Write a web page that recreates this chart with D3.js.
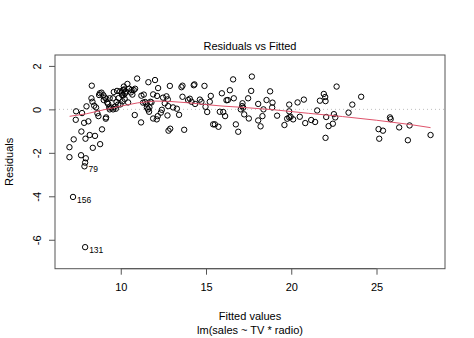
<!DOCTYPE html>
<html><head><meta charset="utf-8">
<script src="https://cdn.jsdelivr.net/npm/d3@7"></script>
<style>body{margin:0;background:#fff}svg{display:block}text{font-family:"Liberation Sans",Arial,sans-serif}</style>
</head><body><svg id="c" width="474" height="338"></svg>
<script>
// ---- data ----
const idNames = ["79", "156", "131"];
const idFitted = [7.87, 7.20, 7.91];
const idResid = [-2.62, -4.03, -6.34];

const fitted = [
7.87,7.20,7.91,7.67,7.95,7.91,
6.99,6.99,7.24,7.36,7.38,7.73,7.69,7.93,8.18,8.49,7.85,7.99,8.30,8.28,8.34,8.44,8.55,8.63,8.69,8.10,8.36,8.79,8.90,9.12,9.14,
8.77,8.87,8.73,8.98,9.00,9.08,9.16,9.20,9.26,9.32,9.35,9.45,9.55,9.65,9.71,9.35,9.55,
9.59,9.78,9.96,10.06,10.14,10.18,10.20,10.29,10.39,10.49,10.63,10.76,10.84,10.43,10.23,10.10,9.98,9.84,9.75,9.88,10.08,10.16,10.25,10.59,10.68,
10.82,10.96,11.19,11.21,11.35,11.31,11.43,11.51,11.53,11.62,11.60,11.66,11.68,11.74,11.80,11.90,11.90,12.01,12.13,12.11,12.17,12.19,12.35,12.48,12.41,12.58,12.68,12.76,12.78,12.74,12.80,12.90,12.88,
13.07,13.29,13.42,13.56,13.62,13.62,13.72,13.95,14.05,14.15,14.28,14.32,14.36,14.64,14.73,14.91,14.97,15.07,15.22,15.28,15.42,15.52,15.73,15.81,15.93,16.01,16.12,16.20,16.28,16.40,16.59,16.63,16.75,16.89,
17.69,17.65,17.47,17.14,17.12,17.18,17.04,17.24,17.51,18.06,18.37,18.55,18.90,18.88,18.76,18.31,18.06,18.20,19.17,19.60,19.88,19.88,19.88,19.76,20.11,19.96,
20.37,20.74,20.50,20.82,21.17,21.40,21.52,21.68,21.91,21.99,22.01,22.05,22.19,22.01,22.44,22.50,22.58,22.66,23.36,23.58,24.10,25.12,25.38,25.16,25.79,25.83,26.33,26.94,26.84,28.17
];
const residuals = [
-2.62,-4.03,-6.34,-2.11,-2.25,-2.45,
-2.20,-1.74,-1.38,-0.48,-0.09,-0.17,-1.02,-1.35,-1.18,-1.22,-0.62,0.14,1.09,0.51,0.35,0.17,0.09,-0.18,-0.31,-0.55,-1.77,-1.60,-0.92,-0.43,-0.37,
0.74,0.77,0.66,0.65,0.43,0.54,0.48,0.32,0.25,0.09,0.00,0.08,0.00,0.12,0.03,0.51,0.51,
0.80,0.85,0.83,0.77,0.89,1.05,0.92,0.82,1.17,0.95,0.89,0.89,0.95,0.32,0.48,0.37,0.23,0.22,0.34,0.52,0.66,0.65,0.74,0.78,0.68,
-0.26,1.42,-0.60,0.63,0.68,0.31,0.34,0.26,0.09,1.25,0.00,-0.11,0.09,0.35,0.32,0.69,-0.42,1.35,0.62,-0.46,-0.31,0.98,-0.15,0.54,-0.02,0.28,0.60,0.46,0.15,-0.28,-0.98,-0.89,1.08,
0.09,0.03,-0.25,1.02,1.09,0.58,-0.94,0.43,0.49,0.35,1.11,1.15,0.25,0.45,0.35,1.08,0.12,-0.12,0.35,0.62,-0.69,-0.69,-0.80,-0.11,0.74,-0.12,-0.31,0.42,0.43,0.88,1.38,0.51,-0.69,-1.03,
1.51,0.85,0.51,0.28,0.15,0.08,0.00,-0.23,-0.42,0.25,0.00,0.43,0.31,0.09,0.83,-0.31,-0.51,-0.78,-0.29,-0.72,0.22,-0.09,-0.37,-0.43,-0.46,-0.34,
0.32,0.45,-0.34,-0.63,-0.49,-0.58,-0.05,0.40,0.71,0.57,0.38,-0.35,-0.77,-1.31,-0.66,-0.22,-0.37,1.05,-0.15,0.22,0.58,-0.91,-0.98,-1.35,-0.37,-0.45,-0.83,-0.74,-1.42,-1.18
];
const smoothX = [7.0, 8, 9, 9.5, 10, 11, 12, 12.8, 14, 15, 16, 17, 19, 21, 23, 25, 27, 28.17];
const smoothY = [-0.32, -0.2, -0.02, 0.06, 0.15, 0.3, 0.38, 0.37, 0.3, 0.22, 0.15, 0.1, -0.02, -0.18, -0.33, -0.5, -0.7, -0.84];
const xTicks = [10, 15, 20, 25];
const yTicks = [-6, -4, -2, 0, 2];

// ---- drawing ----
const svg = d3.select("#c");
const L = 55, R = 445, T = 55, B = 268.7;
const ext = (a, f) => { const [lo, hi] = d3.extent(a); const d = (hi - lo) * f; return [lo - d, hi + d]; };
const xs = d3.scaleLinear().domain(ext(fitted, 0.04)).range([L, R]);
const yr = ext(residuals, 0.08);
const ys = d3.scaleLinear().domain(ext(yr, 0.04)).range([B, T]);

svg.append("line").attr("x1", L).attr("x2", R).attr("y1", ys(0)).attr("y2", ys(0))
  .attr("stroke", "#bebebe").attr("stroke-dasharray", "1,3").attr("stroke-width", 1);

svg.append("g").selectAll("circle").data(fitted).join("circle")
  .attr("cx", d => xs(d)).attr("cy", (d, i) => ys(residuals[i])).attr("r", 2.7)
  .attr("fill", "none").attr("stroke", "#000").attr("stroke-width", 1);

svg.append("path").datum(smoothX.map((x, i) => [x, smoothY[i]]))
  .attr("d", d3.line().x(d => xs(d[0])).y(d => ys(d[1])))
  .attr("fill", "none").attr("stroke", "#DF536B").attr("stroke-width", 1);

svg.append("g").selectAll("text").data(idNames).join("text")
  .attr("x", (d, i) => xs(idFitted[i]) + 4).attr("y", (d, i) => ys(idResid[i]) + 6)
  .attr("font-size", 8.5).attr("fill", "#000").text(d => d);

const xa = svg.append("g").attr("transform", `translate(0,${B})`)
  .call(d3.axisBottom(xs).tickValues(xTicks).tickSize(6).tickPadding(9).tickFormat(d3.format("d")));
const ya = svg.append("g").attr("transform", `translate(${L},0)`)
  .call(d3.axisLeft(ys).tickValues(yTicks).tickSize(6).tickPadding(0).tickFormat(d => d < 0 ? "-" + Math.abs(d) : d));
[xa, ya].forEach(g => {
  g.selectAll("path,line").attr("stroke", "#555");
  g.selectAll("text").attr("font-size", 11).attr("fill", "#000").attr("font-family", '"Liberation Sans",Arial,sans-serif');
});
ya.selectAll(".tick text").attr("x", null).attr("y", 0).attr("dy", "0").attr("text-anchor", "middle")
  .attr("transform", "translate(-14,0) rotate(-90)");
xa.select(".domain").remove();
ya.select(".domain").remove();
svg.append("line").attr("x1", xs(xTicks[0])).attr("x2", xs(xTicks[xTicks.length - 1])).attr("y1", B).attr("y2", B).attr("stroke", "#555");

svg.append("rect").attr("x", L).attr("y", T).attr("width", R - L).attr("height", B - T)
  .attr("fill", "none").attr("stroke", "#555").attr("stroke-width", 1);

svg.append("text").attr("x", (L + R) / 2).attr("y", 50).attr("text-anchor", "middle").attr("font-size", 11).text("Residuals vs Fitted");
svg.append("text").attr("x", (L + R) / 2).attr("y", 320).attr("text-anchor", "middle").attr("font-size", 11).text("Fitted values");
svg.append("text").attr("x", (L + R) / 2).attr("y", 334).attr("text-anchor", "middle").attr("font-size", 11).text("lm(sales ~ TV * radio)");
svg.append("text").attr("transform", `translate(13,${(T + B) / 2}) rotate(-90)`).attr("text-anchor", "middle").attr("font-size", 11).text("Residuals");
</script></body></html>
